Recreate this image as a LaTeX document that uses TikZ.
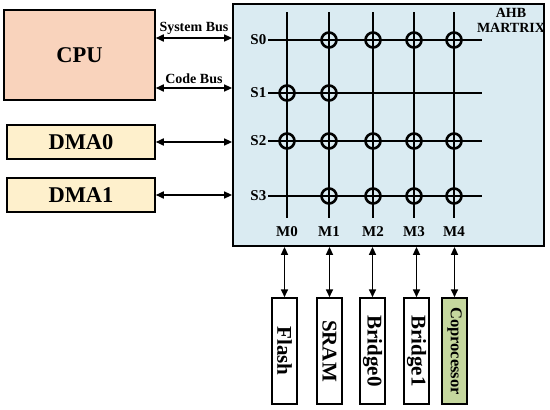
\documentclass[tikz,border=0pt]{standalone}
\usepackage{fontspec}
\setmainfont{Liberation Serif}
\usepackage{graphicx}
\usetikzlibrary{arrows.meta}
\definecolor{cpufill}{HTML}{F9D3BC}
\definecolor{dmafill}{HTML}{FEF0CC}
\definecolor{matfill}{HTML}{DAEBF2}
\definecolor{cofill}{HTML}{C5D79E}
\begin{document}
\begin{tikzpicture}[x=1pt,y=-1pt,
  font=\bfseries\fontsize{14}{16}\selectfont,
  box/.style={draw, line width=1.5pt, inner sep=0pt},
  bigtext/.style={font=\bfseries\fontsize{22.5}{24}\selectfont},
  slavebox/.style={box, fill=white, minimum width=25pt, minimum height=106pt, font=\bfseries\fontsize{21}{22}\selectfont},
  bus/.style={line width=1.6pt, {Triangle[length=8pt,width=7pt]}-{Triangle[length=8pt,width=7pt]}},
  gridline/.style={line width=1.4pt},
  ring/.style={circle, draw, line width=2.6pt, minimum size=15pt, inner sep=0pt},
  lbl/.style={inner sep=1.5pt, font=\bfseries\fontsize{15}{16}\selectfont}]
\useasboundingbox (0,0) rectangle (550,410);

% masters
\node[box, fill=cpufill, minimum width=151pt, minimum height=90pt, bigtext] (cpu) at (79.5,55) {CPU};
\node[box, fill=dmafill, minimum width=148pt, minimum height=34pt, bigtext] (dma0) at (81,142) {DMA0};
\node[box, fill=dmafill, minimum width=148pt, minimum height=34pt, bigtext] (dma1) at (81,195) {DMA1};

% matrix
\node[box, fill=matfill, line width=1.8pt, minimum width=311pt, minimum height=242pt] (mat) at (388.5,125) {};
\node[align=center, inner sep=0pt, font=\bfseries\fontsize{14}{15}\selectfont] (title) at (511,20) {AHB\\MARTRIX};

% rows
\coordinate (r0) at (268,40);  \coordinate (r0e) at (482,40);
\coordinate (r1) at (268,93);  \coordinate (r1e) at (482,93);
\coordinate (r2) at (268,141); \coordinate (r2e) at (482,141);
\coordinate (r3) at (268,196); \coordinate (r3e) at (482,196);
% columns
\coordinate (c0) at (287,12);  \coordinate (c0e) at (287,218);
\coordinate (c1) at (329,12);  \coordinate (c1e) at (329,218);
\coordinate (c2) at (373,12);  \coordinate (c2e) at (373,218);
\coordinate (c3) at (414,12);  \coordinate (c3e) at (414,218);
\coordinate (c4) at (454,12);  \coordinate (c4e) at (454,218);

\foreach \i in {0,1,2,3} {
  \draw[gridline] (r\i) -- (r\i e);
  \node[lbl, anchor=east] (s\i) at (r\i) {S\i};
}
\foreach \j in {0,1,2,3,4} {
  \draw[gridline] (c\j) -- (c\j e);
  \node[lbl] (m\j) at (c\j |- 0,232) {M\j};
}

% crosspoints
\foreach \i/\j in {0/1,0/2,0/3,0/4,1/0,1/1,2/0,2/1,2/2,2/3,2/4,3/1,3/2,3/3,3/4} {
  \node[ring] (x\i\j) at (c\j |- r\i) {};
}

% master buses
\coordinate (sysb) at (0,38);
\coordinate (codeb) at (0,88);
\draw[bus] (cpu.east |- sysb) -- node[above=3pt, inner sep=0pt] (sysl) {System Bus} (mat.west |- sysb);
\draw[bus] (cpu.east |- codeb) -- node[above=4pt, inner sep=0pt] (codel) {Code Bus} (mat.west |- codeb);
\draw[bus] (dma0.east) -- (mat.west |- dma0.east);
\draw[bus] (dma1.east) -- (mat.west |- dma1.east);

% slaves
\node[slavebox] (flash) at (284.5,351) {\rotatebox{-90}{Flash}};
\node[slavebox] (sram) at (329.5,351) {\rotatebox{-90}{SRAM}};
\node[slavebox] (br0) at (372.5,351) {\rotatebox{-90}{Bridge0}};
\node[slavebox] (br1) at (416.5,351) {\rotatebox{-90}{Bridge1}};
\node[slavebox, fill=cofill, font=\bfseries\fontsize{16.5}{18}\selectfont] (copro) at (454.5,351) {\rotatebox{-90}{Coprocessor}};

\foreach \n in {flash,sram,br0,br1,copro} {
  \draw[bus] (\n.north) -- (\n.north |- mat.south);
}
\end{tikzpicture}
\end{document}
